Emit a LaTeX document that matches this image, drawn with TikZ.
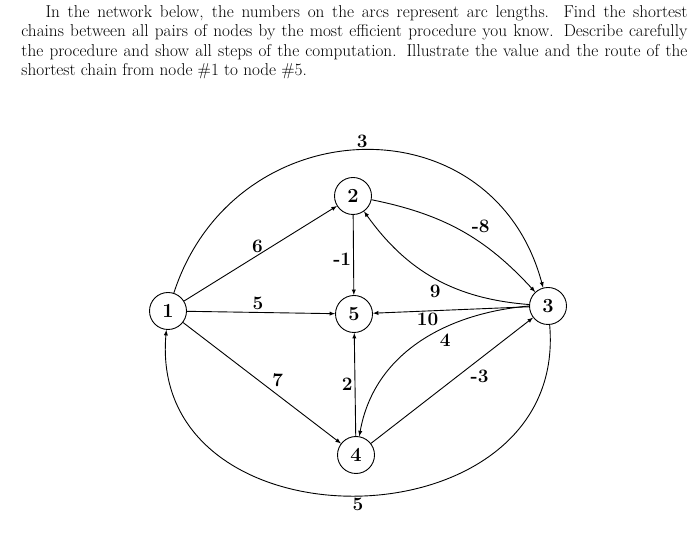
\documentclass[tikz,border=0pt]{standalone}
\usetikzlibrary{positioning}

\begin{document}
\begin{tikzpicture}[x=1pt, y=1pt, >={latex[scale=1.4]}, line width=.9pt, c/.style={circle, draw, minimum size=37pt, inner sep=0pt, font=\bfseries\fontsize{20}{22}\selectfont}, w/.style={font=\bfseries\fontsize{19}{21}\selectfont, inner sep=2pt}]
		\useasboundingbox (0,0) rectangle (700,556);
		\node[anchor=north west, text width=666pt, align=justify, inner sep=0pt, font=\fontsize{17.2}{19.5}\selectfont] (Q) at (21,551) {\hspace*{1.4em}In the network below, the numbers on the arcs represent arc lengths. Find the shortest chains between all pairs of nodes by the most efficient procedure you know. Describe carefully the procedure and show all steps of the computation. Illustrate the value and the route of the shortest chain from node \#1 to node \#5.};

		\node[c] (N1) at (168,245) {1};
		\node[c] (N2) at (353,360) {2};
		\node[c] (N5) at (354,242) {5};
		\node[c] (N3) at (548,250) {3};
		\node[c] (N4) at (356,101) {4};

		\draw[->] (N1) -- node[w, pos=.48, above] {6} (N2);
		\draw[->] (N1) -- node[w, pos=.48, above] {5} (N5);
		\draw[->] (N1) -- node[w, pos=.55, above right] {7} (N4);
		\draw[->] (N2) -- node[w, pos=.55, left] {-1} (N5);
		\draw[->] (N4) -- node[w, pos=.5, left] {2} (N5);
		\draw[->] (N3) -- node[w, pos=.65, below] {10} (N5);
		\draw[->] (N4) -- node[w, pos=.6, below right] {-3} (N3);
		\draw[->] (N2) to[bend left=18] node[w, pos=.55, above right] {-8} (N3);
		\draw[->] (N3) to[bend left=25] node[w, pos=.45, below left] {9} (N2);
		\draw[->] (N3.west) to[out=185, in=80] node[w, pos=.4, below right] {4} (N4);
		\draw[->] (N1) to[out=72, in=105, looseness=1.35] node[w, above, pos=.5] {3} (N3);
		\draw[->] (N3) to[out=-85, in=-95, looseness=1.5] node[w, below, pos=.5] {5} (N1);
	\end{tikzpicture}
\end{document}
